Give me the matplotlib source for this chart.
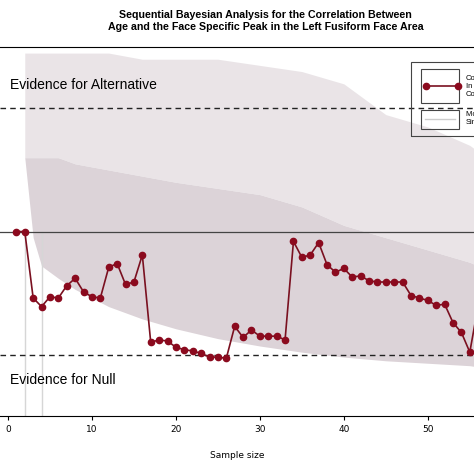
import matplotlib
matplotlib.use("Agg")
import matplotlib.pyplot as plt
from matplotlib.patches import Rectangle
from matplotlib.lines import Line2D

# observed sequential Bayes factor (log scale, +-1 = evidence thresholds)
sample_n = list(range(1, 57))
observed = [0.00, 0.00, -0.54, -0.61, -0.53, -0.54, -0.44, -0.38, -0.49, -0.53,
            -0.54, -0.29, -0.26, -0.43, -0.41, -0.19, -0.90, -0.88, -0.89, -0.94,
            -0.96, -0.97, -0.99, -1.02, -1.02, -1.03, -0.77, -0.86, -0.80, -0.85,
            -0.85, -0.85, -0.88, -0.08, -0.21, -0.19, -0.09, -0.27, -0.33, -0.30,
            -0.37, -0.36, -0.40, -0.41, -0.41, -0.41, -0.41, -0.52, -0.54, -0.56,
            -0.60, -0.59, -0.74, -0.82, -0.98, -0.60]

# envelope of the simulated sequences
env_n = [2, 3, 4, 6, 8, 12, 16, 20, 25, 30, 35, 40, 45, 50, 55, 56]
env_low = [0.60, -0.05, -0.28, -0.38, -0.47, -0.61, -0.71, -0.79, -0.87, -0.93, -0.98, -1.02, -1.05, -1.07, -1.09, -1.10]
env_mid = [0.60, 0.60, 0.60, 0.60, 0.55, 0.50, 0.45, 0.40, 0.35, 0.30, 0.20, 0.05, -0.05, -0.15, -0.25, -0.28]
env_top = [1.45, 1.45, 1.45, 1.45, 1.45, 1.45, 1.40, 1.40, 1.40, 1.35, 1.30, 1.20, 0.95, 0.85, 0.70, 0.65]

fig = plt.figure(figsize=(4.74, 4.74), dpi=100)
ax = fig.add_axes([0, 0.122, 1, 0.779])
ax.set_xlim(-0.95, 55.5)
ax.set_ylim(-1.50, 1.50)

sim_col = "#dcd3d8"
ax.fill_between(env_n, env_low, env_mid, color=sim_col, lw=0)
ax.fill_between(env_n, env_mid, env_top, color=sim_col, alpha=0.6, lw=0)
for xv in (2, 4):
    ax.plot([xv, xv], [-1.5, 0], color="#d6d6d6", lw=1)

ax.axhline(0, color="#444444", lw=0.9)
ax.axhline(1, color="#222222", lw=1, ls=(0, (4, 3)))
ax.axhline(-1, color="#222222", lw=1, ls=(0, (4, 3)))

ax.plot(sample_n, observed, color="#7a1020", lw=1.2, marker="o", ms=4.5,
        mfc="#8b0a1e", mec="#8b0a1e", zorder=5)

ax.text(0.2, 1.16, "Evidence for Alternative", fontsize=10, family="Liberation Sans")
ax.text(0.2, -1.24, "Evidence for Null", fontsize=10, family="Liberation Sans")

for s in ("left", "right"):
    ax.spines[s].set_visible(False)
ax.set_yticks([])
ax.set_xticks([0, 10, 20, 30, 40, 50])
ax.tick_params(axis="x", labelsize=6.5, length=3)
ax.set_xlabel("Sample size", fontsize=6.5, labelpad=12)

# legend box (cut off at the right edge)
fx = lambda px: px / 474
fy = lambda py: 1 - py / 474
fig.patches.append(Rectangle((fx(411), fy(136)), 0.2, fy(62) - fy(136),
                             transform=fig.transFigure, fill=False, ec="#444444", lw=0.8))
fig.patches.append(Rectangle((fx(421), fy(103)), fx(459) - fx(421), fy(69) - fy(103),
                             transform=fig.transFigure, fill=False, ec="#444444", lw=0.8))
fig.patches.append(Rectangle((fx(421), fy(129)), fx(459) - fx(421), fy(110) - fy(129),
                             transform=fig.transFigure, fill=False, ec="#444444", lw=0.8))
fig.lines.append(Line2D([fx(426), fx(458)], [fy(86), fy(86)], transform=fig.transFigure,
                        color="#7a1020", lw=1.2, marker="o", ms=4.5, mfc="#8b0a1e", mec="#8b0a1e"))
fig.lines.append(Line2D([fx(425), fx(455)], [fy(119), fy(119)], transform=fig.transFigure,
                        color="#cccccc", lw=1))
fig.text(fx(466), fy(86), "Correlation\nIn Data\nCollected", fontsize=5.5, va="center",
         linespacing=1.2, family="Liberation Sans")
fig.text(fx(466), fy(119), "Monte Carlo\nSimulations", fontsize=5.5, va="center",
         linespacing=1.2, family="Liberation Sans")

fig.text(0.56, 0.955, "Sequential Bayesian Analysis for the Correlation Between\n"
         "Age and the Face Specific Peak in the Left Fusiform Face Area",
         ha="center", va="center", fontsize=7.7, fontweight="bold",
         family="Liberation Sans", linespacing=1.25)

fig.savefig("out.png", dpi=100)
